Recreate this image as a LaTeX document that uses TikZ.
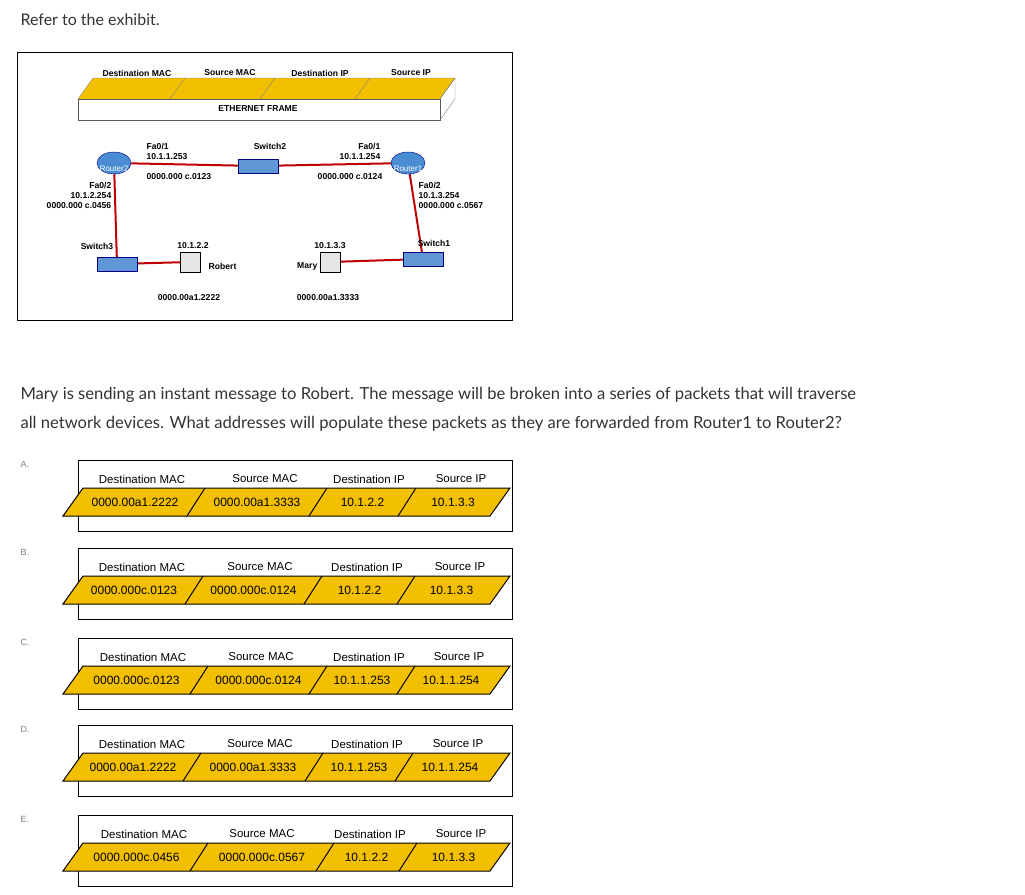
\documentclass[tikz,border=0pt]{standalone}
\usepackage{fontspec}
\usetikzlibrary{shapes.geometric}
\setmainfont{Lato}
\newfontfamily\hv{Liberation Sans}
\definecolor{gold}{RGB}{242,192,0}
\begin{document}
\begin{tikzpicture}[x=1pt,y=-1pt,
  lbl/.style={font=\hv\bfseries\fontsize{8.6}{10}\selectfont,inner sep=0.5pt,align=center},
  hdr/.style={font=\hv\fontsize{11.5}{12}\selectfont,inner sep=0pt},
  val/.style={font=\hv\fontsize{12}{12}\selectfont,inner sep=0pt},
  link/.style={draw=red!75!black,line width=2pt},
  ybar/.style={fill=gold,draw=black,line width=1pt},
  rtr/.style={ellipse,fill=cyan!55!blue!75,draw=blue!50!black,minimum width=34pt,minimum height=22pt,inner sep=0pt},
  rtl/.style={font=\hv\fontsize{8}{8}\selectfont,text=white,inner sep=0pt},
  sw/.style={rectangle,fill=cyan!55!blue!65,draw=blue!50!black,minimum width=40pt,minimum height=14pt,inner sep=0pt},
  pc/.style={rectangle,fill=gray!20,draw=black,line width=1pt,minimum width=20pt,minimum height=20pt,inner sep=0pt}]
\useasboundingbox (0,0) rectangle (1025,894);
\node[anchor=west,font=\fontsize{16}{18}\selectfont,text=black!80] (t) at (17,20) {Refer to the exhibit.};
% exhibit
\draw[line width=0.8pt] (17,52) rectangle (512,320);
\fill[gold] (78,99) -- (93,78) -- (455,78) -- (440,99) -- cycle;
\draw[gray] (78,99) -- (93,78) -- (455,78) -- (440,99);
\foreach \a in {170,260,355} \draw[gray] (\a,99) -- (\a+15,78);
\draw[gray!70!black,fill=white] (78,99) rectangle (440,120);
\draw[gray] (440,99) -- (455,78) -- (455,99) -- (440,120);
\node[lbl] (eth) at (258,109) {ETHERNET FRAME};
\node[lbl] (h1) at (137,73) {Destination MAC};
\node[lbl] (h2) at (230,73) {Source MAC};
\node[lbl] (h3) at (320,73) {Destination IP};
\node[lbl] (h4) at (411,73) {Source IP};
\coordinate (r2) at (114,163); \coordinate (r1) at (408,163);
\coordinate (s2) at (258,166); \coordinate (s3) at (117,264); \coordinate (s1) at (423,259);
\coordinate (rob) at (190,262); \coordinate (mary) at (330,262);
\draw[link] (r2) -- (s2); \draw[link] (s2) -- (r1);
\draw[link] (r2) -- (s3); \draw[link] (r1) -- (s1);
\draw[link] (s3) -- (rob); \draw[link] (mary) -- (s1);
\node[rtr] (R2) at (r2) {}; \node[rtl] (r2l) at (114,169) {Router2};
\node[rtr] (R1) at (r1) {}; \node[rtl] (r1l) at (408,169) {Router1};
\node[sw] (S2) at (s2) {}; \node[sw] (S3) at (s3) {}; \node[sw] (S1) at (s1) {};
\node[pc] (ROB) at (rob) {}; \node[pc] (MARY) at (mary) {};
\node[lbl,align=left,anchor=north west] (a1) at (146,143) {Fa0/1\\10.1.1.253};
\node[lbl,anchor=west] (a2) at (146,177) {0000.000 c.0123};
\node[lbl] (a3) at (270,146) {Switch2};
\node[lbl,align=right,anchor=north east] (a4) at (381,143) {Fa0/1\\10.1.1.254};
\node[lbl,anchor=east] (a5) at (383,177) {0000.000 c.0124};
\node[lbl,align=right,anchor=north east] (a6) at (112,182) {Fa0/2\\10.1.2.254\\0000.000 c.0456};
\node[lbl,align=left,anchor=north west] (a7) at (418,182) {Fa0/2\\10.1.3.254\\0000.000 c.0567};
\node[lbl] (a8) at (97,246) {Switch3};
\node[lbl] (a9) at (434,243) {Switch1};
\node[lbl] (a10) at (193,246) {10.1.2.2};
\node[lbl] (a11) at (330,246) {10.1.3.3};
\node[lbl,anchor=west] (a12) at (208,266) {Robert};
\node[lbl,anchor=east] (a13) at (318,266) {Mary};
\node[lbl] (a14) at (189,298) {0000.00a1.2222};
\node[lbl] (a15) at (328,298) {0000.00a1.3333};
% question
\node[anchor=west,font=\fontsize{16.6}{18}\selectfont,text=black!80] (q1) at (17,395) {Mary is sending an instant message to Robert. The message will be broken into a series of packets that will traverse};
\node[anchor=west,font=\fontsize{16.6}{18}\selectfont,text=black!80] (q2) at (17,424) {all network devices. What addresses will populate these packets as they are forwarded from Router1 to Router2?};
% options
\foreach \L/\y/\la/\lb/\lc/\ld/\ha/\hb/\hc/\hd/\va/\vb/\vc/\vd in {
 A/460/187/309/398/490/142/265/369/461/{0000.00a1.2222}/{0000.00a1.3333}/{10.1.2.2}/{10.1.3.3},
 B/548/185/304/397/488/142/260/367/460/{0000.000c.0123}/{0000.000c.0124}/{10.1.2.2}/{10.1.3.3},
 C/638/190/309/397/487/143/261/369/459/{0000.000c.0123}/{0000.000c.0124}/{10.1.1.253}/{10.1.1.254},
 D/725/183/305/395/487/142/260/367/458/{0000.00a1.2222}/{0000.00a1.3333}/{10.1.1.253}/{10.1.1.254},
 E/815/190/316/399/490/144/262/370/461/{0000.000c.0456}/{0000.000c.0567}/{10.1.2.2}/{10.1.3.3}}{
  \node[font=\hv\fontsize{9}{9}\selectfont,text=gray] at (25,\y+4) {\L.};
  \draw[line width=0.8pt] (78,\y) rectangle (512,\y+71);
  \draw[ybar] (63,\y+56) -- (83,\y+28) -- (510,\y+28) -- (490,\y+56) -- cycle;
  \foreach \d in {\la,\lb,\lc} \draw[line width=1pt] (\d,\y+56) -- (\d+18,\y+28);
  \node[hdr] at (\ha,\y+19) {Destination MAC};
  \node[hdr] at (\hb,\y+19) {Source MAC};
  \node[hdr] at (\hc,\y+19) {Destination IP};
  \node[hdr] at (\hd,\y+19) {Source IP};
  \node[val] at ({(63+\la)/2+10},\y+42) {\va};
  \node[val] at ({(\la+\lb)/2+9},\y+42) {\vb};
  \node[val] at ({(\lb+\lc)/2+9},\y+42) {\vc};
  \node[val] at ({(\lc+\ld)/2+9},\y+42) {\vd};
}
\end{tikzpicture}
\end{document}
